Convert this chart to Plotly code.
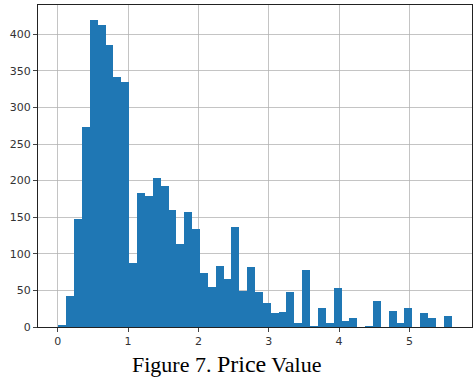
import numpy as np
import plotly.graph_objects as go

# Histogram of price values: 50 equal-width bins between price_min and price_max
price_min = 0.01
price_max = 5.60
counts = [2, 43, 148, 273, 419, 412, 386, 342, 335, 87,
          183, 179, 203, 193, 160, 113, 157, 134, 74, 55,
          83, 65, 136, 49, 82, 48, 33, 19, 21, 48,
          5, 78, 1, 26, 5, 53, 8, 12, 0, 1,
          35, 0, 22, 6, 26, 0, 19, 12, 0, 15]
x_ticks = [0, 1, 2, 3, 4, 5]
y_ticks = [0, 50, 100, 150, 200, 250, 300, 350, 400]
caption = "Figure 7. <span style='font-size:24px'>Price</span> Value"

n_bins = len(counts)
edges = np.linspace(price_min, price_max, n_bins + 1)
centers = (edges[:-1] + edges[1:]) / 2
width = edges[1] - edges[0]

fig = go.Figure(go.Bar(
    x=centers, y=counts, width=width,
    marker=dict(color="#1f77b4", line=dict(width=0)),
    hoverinfo="x+y",
))

axis_common = dict(
    showline=True, linecolor="#222", linewidth=1, mirror=True,
    ticks="outside", ticklen=4, tickcolor="#444",
    showgrid=True, gridcolor="rgba(176,176,176,0.75)", gridwidth=1,
    zeroline=False,
    tickfont=dict(family="DejaVu Sans", size=11, color="#333"),
    layer="above traces",
)

fig.update_layout(
    width=474, height=377,
    margin=dict(l=38, r=2, t=5, b=50),
    paper_bgcolor="white", plot_bgcolor="white",
    showlegend=False,
    bargap=0,
    xaxis=dict(range=[-0.28, 5.89], tickvals=x_ticks, **axis_common),
    yaxis=dict(range=[0, 440], tickvals=y_ticks, **axis_common),
    annotations=[dict(
        text=caption, xref="paper", yref="paper",
        x=0.435, y=-0.114, xanchor="center", yanchor="middle",
        showarrow=False,
        font=dict(family="Liberation Serif", size=22, color="black"),
    )],
)

fig.write_html(
    "out.html",
    config={"displayModeBar": False},
    post_script="document.body.style.margin='0';document.body.style.overflow='hidden';",
)
